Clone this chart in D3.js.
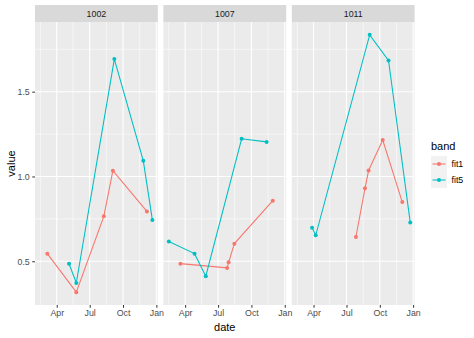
<!DOCTYPE html>
<html><head><meta charset="utf-8">
<script src="https://cdn.jsdelivr.net/npm/d3@7"></script>
<style>body{margin:0;background:#fff}svg{display:block}text{font-family:"Liberation Sans",Arial,sans-serif}</style>
</head><body><svg id="c" width="474" height="338"></svg>
<script>
const panels = ["1002", "1007", "1011"];
const bands = ["fit1", "fit5"];
const bandColors = ["#F8766D", "#00BFC4"];

const dates1002fit1 = ["2019-03-06", "2019-05-25", "2019-08-09", "2019-09-03", "2019-12-06"];
const values1002fit1 = [0.545, 0.318, 0.765, 1.034, 0.794];
const dates1002fit5 = ["2019-05-05", "2019-05-25", "2019-09-07", "2019-11-26", "2019-12-21"];
const values1002fit5 = [0.485, 0.372, 1.692, 1.092, 0.744];

const dates1007fit1 = ["2019-03-19", "2019-07-26", "2019-07-30", "2019-08-15", "2019-11-29"];
const values1007fit1 = [0.486, 0.461, 0.494, 0.604, 0.857];
const dates1007fit5 = ["2019-02-15", "2019-04-27", "2019-05-28", "2019-09-04", "2019-11-12"];
const values1007fit5 = [0.616, 0.545, 0.412, 1.222, 1.204];

const dates1011fit1 = ["2019-07-27", "2019-08-21", "2019-08-31", "2019-10-09", "2019-12-02"];
const values1011fit1 = [0.643, 0.930, 1.035, 1.215, 0.849];
const dates1011fit5 = ["2019-03-28", "2019-04-07", "2019-09-03", "2019-10-25", "2019-12-24"];
const values1011fit5 = [0.698, 0.653, 1.835, 1.684, 0.728];

const xTickDates = ["2019-04-01", "2019-07-01", "2019-10-01", "2020-01-01"];
const xTickLabels = ["Apr", "Jul", "Oct", "Jan"];
const xMinorDates = ["2019-02-15", "2019-05-16", "2019-08-16", "2019-11-16"];
const yTicks = [0.5, 1.0, 1.5];
const yMinor = [0.75, 1.25, 1.75];
const xDomainDates = ["2019-01-31", "2020-01-05"];

const series = {
  "1002": [[dates1002fit1, values1002fit1], [dates1002fit5, values1002fit5]],
  "1007": [[dates1007fit1, values1007fit1], [dates1007fit5, values1007fit5]],
  "1011": [[dates1011fit1, values1011fit1], [dates1011fit5, values1011fit5]]
};

(function () {
const parse = d3.timeParse("%Y-%m-%d");
const svg = d3.select("#c");
const pLeft = 35, pw = 122.8, gap = 5.6, pTop = 22, pBottom = 305, stripH = 17;

const allVals = [].concat(values1002fit1, values1002fit5, values1007fit1, values1007fit5, values1011fit1, values1011fit5);
const [vmin, vmax] = d3.extent(allVals);
const pad = (vmax - vmin) * 0.05;
const y = d3.scaleLinear().domain([vmin - pad, vmax + pad]).range([pBottom, pTop]);

panels.forEach((p, i) => {
  const x0 = pLeft + i * (pw + gap);
  const x = d3.scaleTime().domain(xDomainDates.map(parse)).range([x0, x0 + pw]);
  const g = svg.append("g");
  g.append("rect").attr("x", x0).attr("y", pTop - stripH).attr("width", pw).attr("height", stripH).attr("fill", "#D9D9D9");
  g.append("text").attr("x", x0 + pw / 2).attr("y", pTop - stripH / 2).attr("dy", "0.35em")
    .attr("text-anchor", "middle").attr("font-size", "8.8px").attr("fill", "#1A1A1A").text(p);
  g.append("rect").attr("x", x0).attr("y", pTop).attr("width", pw).attr("height", pBottom - pTop).attr("fill", "#EBEBEB");
  yMinor.forEach(v => g.append("line").attr("x1", x0).attr("x2", x0 + pw).attr("y1", y(v)).attr("y2", y(v)).attr("stroke", "#fff").attr("stroke-width", 0.55));
  xMinorDates.forEach(d => g.append("line").attr("x1", x(parse(d))).attr("x2", x(parse(d))).attr("y1", pTop).attr("y2", pBottom).attr("stroke", "#fff").attr("stroke-width", 0.55));
  yTicks.forEach(v => g.append("line").attr("x1", x0).attr("x2", x0 + pw).attr("y1", y(v)).attr("y2", y(v)).attr("stroke", "#fff").attr("stroke-width", 1.1));
  xTickDates.forEach(d => g.append("line").attr("x1", x(parse(d))).attr("x2", x(parse(d))).attr("y1", pTop).attr("y2", pBottom).attr("stroke", "#fff").attr("stroke-width", 1.1));

  const xa = d3.axisBottom(x).tickValues(xTickDates.map(parse)).tickSize(2.75).tickPadding(2.5)
    .tickFormat((d, j) => xTickLabels[j]);
  const ax = g.append("g").attr("transform", `translate(0,${pBottom})`).call(xa);
  ax.select(".domain").remove();
  ax.selectAll("line").attr("stroke", "#333333");
  ax.selectAll("text").attr("font-size", "8.8px").attr("fill", "#4D4D4D").attr("font-family", "Liberation Sans, Arial, sans-serif");

  const line = d3.line().x(d => x(d[0])).y(d => y(d[1]));
  series[p].forEach((s, b) => {
    const pts = s[0].map((d, k) => [parse(d), s[1][k]]);
    g.append("path").datum(pts).attr("d", line).attr("fill", "none").attr("stroke", bandColors[b]).attr("stroke-width", 1.07);
    g.selectAll(null).data(pts).enter().append("circle").attr("cx", d => x(d[0])).attr("cy", d => y(d[1])).attr("r", 2).attr("fill", bandColors[b]);
  });
});

const ya = d3.axisLeft(y).tickValues(yTicks).tickSize(2.75).tickPadding(2.5).tickFormat(d3.format(".1f"));
const ayg = svg.append("g").attr("transform", `translate(${pLeft},0)`).call(ya);
ayg.select(".domain").remove();
ayg.selectAll("line").attr("stroke", "#333333");
ayg.selectAll("text").attr("font-size", "8.8px").attr("fill", "#4D4D4D").attr("font-family", "Liberation Sans, Arial, sans-serif");

const totalRight = pLeft + 3 * pw + 2 * gap;
svg.append("text").attr("x", (pLeft + totalRight) / 2).attr("y", 331).attr("text-anchor", "middle").attr("font-size", "11px").attr("fill", "#000").text("date");
svg.append("text").attr("transform", `translate(15,${(pTop + pBottom) / 2}) rotate(-90)`).attr("text-anchor", "middle").attr("font-size", "11px").attr("fill", "#000").text("value");

const lx = 431, ly = 156, kh = 16, kw = 16;
svg.append("text").attr("x", lx).attr("y", 150).attr("font-size", "11px").attr("fill", "#000").text("band");
bands.forEach((b, i) => {
  const yy = ly + i * kh;
  svg.append("rect").attr("x", lx).attr("y", yy).attr("width", kw).attr("height", kh).attr("fill", "#F2F2F2");
  svg.append("line").attr("x1", lx + 1.5).attr("x2", lx + kw - 1.5).attr("y1", yy + kh / 2).attr("y2", yy + kh / 2).attr("stroke", bandColors[i]).attr("stroke-width", 1.07);
  svg.append("circle").attr("cx", lx + kw / 2).attr("cy", yy + kh / 2).attr("r", 2).attr("fill", bandColors[i]);
  svg.append("text").attr("x", lx + kw + 4.5).attr("y", yy + kh / 2).attr("dy", "0.35em").attr("font-size", "8.8px").attr("fill", "#000").text(b);
});
})();
</script></body></html>
